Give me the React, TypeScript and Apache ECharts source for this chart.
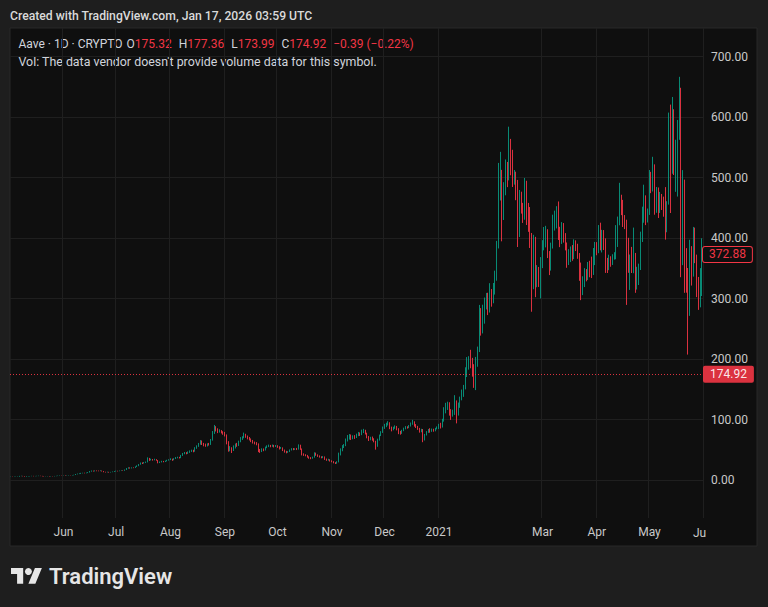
import React, { useEffect, useRef } from "react";
import * as echarts from "echarts";

const FONT = "Roboto, 'Noto Sans', 'DejaVu Sans', sans-serif";

// ---------- data: daily candles, each row = [close, low, high]; open = previous close ----------
const firstOpen = 5.0;

const may2020 = [
  [5.2, 4.9, 5.4], [5.1, 4.9, 5.4], [5.3, 5.0, 5.5], [5.4, 5.1, 5.6], [5.6, 5.2, 5.8], [6.5, 5.5, 6.8], [6.6, 6.2, 7.0], [6.3, 6.1, 6.8], [5.8, 5.4, 6.4], [5.9, 5.3, 6.3],
  [6.2, 5.8, 6.4], [6.4, 6.0, 6.6], [6.6, 6.2, 6.9], [6.3, 6.1, 6.8], [6.5, 6.2, 6.7], [6.6, 6.3, 6.9], [6.8, 6.4, 7.1], [6.6, 6.4, 7.0], [6.3, 6.0, 6.8], [6.0, 5.8, 6.5],
  [6.2, 5.9, 6.4], [6.3, 6.0, 6.5], [6.0, 5.9, 6.6], [6.2, 5.8, 6.4], [6.1, 5.9, 6.4], [6.5, 6.0, 6.7], [6.7, 6.3, 6.9], [6.9, 6.5, 7.2], [7.1, 6.7, 7.4], [7.0, 6.8, 7.3],
];
const jun2020 = [
  [7.3, 6.9, 7.5], [7.1, 6.8, 7.6], [7.4, 7.0, 7.6], [7.6, 7.2, 7.9], [7.5, 7.3, 7.8], [7.8, 7.4, 8.1], [8.4, 7.7, 8.6], [9.6, 8.3, 9.9], [10.2, 9.3, 10.6], [10.5, 9.8, 11.0],
  [11.2, 10.1, 11.8], [11.6, 10.9, 12.0], [11.3, 11.0, 12.0], [11.8, 11.1, 12.2], [12.5, 11.4, 13.0], [14.2, 12.3, 14.8], [15.1, 13.8, 15.7], [14.6, 14.0, 15.5], [15.3, 14.2, 15.9], [15.0, 14.5, 15.8],
  [14.8, 14.4, 15.6], [15.4, 14.6, 16.0], [14.5, 14.1, 15.6], [13.4, 12.8, 14.7], [12.9, 12.4, 13.6], [13.3, 12.6, 13.7], [12.6, 12.2, 13.5], [13.1, 12.4, 13.4], [13.6, 12.9, 14.0], [14.4, 13.4, 14.8],
];
const jul2020 = [
  [15.0, 14.1, 15.4], [14.7, 14.2, 15.3], [15.2, 14.5, 15.6], [15.5, 14.9, 15.9], [15.3, 14.9, 15.8], [16.8, 15.2, 17.3], [19.2, 16.6, 19.8], [20.3, 18.7, 21.0], [19.6, 18.9, 20.8], [20.4, 19.1, 20.9],
  [20.1, 19.6, 20.8], [21.9, 19.9, 22.5], [23.4, 21.5, 24.2], [25.6, 22.9, 26.4], [28.1, 25.2, 28.9], [27.6, 26.4, 29.1], [28.9, 27.1, 29.8], [29.4, 28.2, 30.5], [35.8, 29.1, 37.4], [33.2, 31.6, 36.5],
  [33.9, 32.4, 35.2], [33.1, 32.0, 34.6], [34.0, 32.5, 35.1], [32.6, 31.8, 34.4], [28.4, 27.6, 33.0], [29.8, 28.0, 30.6], [30.9, 29.1, 31.7], [30.1, 29.3, 31.5], [31.2, 29.8, 32.0], [32.6, 30.8, 33.4],
  [33.5, 32.1, 34.3],
];
const aug2020 = [
  [34.6, 32.9, 35.8], [33.0, 31.7, 35.2], [35.2, 32.6, 36.0], [36.8, 34.7, 37.9], [37.4, 35.9, 38.5], [36.5, 35.6, 38.2], [40.2, 36.1, 41.5], [43.6, 39.8, 44.7], [44.9, 42.6, 46.3], [43.8, 42.5, 46.0],
  [46.1, 43.1, 47.2], [47.5, 44.8, 48.9], [48.6, 46.4, 50.1], [47.2, 45.8, 49.9], [52.8, 46.7, 54.2], [55.9, 51.6, 57.3], [59.4, 54.8, 61.2], [64.1, 58.3, 66.0], [60.5, 57.9, 65.3], [58.2, 55.7, 61.4],
  [56.3, 54.9, 60.1], [59.1, 55.4, 60.6], [58.4, 56.9, 61.3], [66.2, 58.0, 67.8], [78.3, 65.1, 80.9], [86.4, 76.2, 91.0], [83.5, 80.2, 88.9], [80.2, 77.5, 85.4], [81.6, 78.4, 83.8], [79.4, 77.0, 82.5],
  [77.4, 74.8, 80.6],
];
const sep2020 = [
  [74.2, 72.0, 79.5], [62.8, 58.9, 75.3], [50.1, 46.8, 64.2], [53.6, 47.5, 56.0], [48.2, 44.6, 54.1], [55.3, 47.9, 57.2], [58.4, 52.1, 60.3], [57.1, 54.9, 61.4], [63.5, 56.3, 65.0], [68.7, 62.4, 70.9],
  [70.5, 66.2, 72.3], [75.6, 69.0, 78.3], [72.3, 69.8, 76.4], [69.4, 67.1, 73.5], [67.8, 65.4, 71.0], [64.9, 62.6, 68.7], [62.1, 60.3, 66.2], [61.3, 58.9, 63.5], [59.8, 57.4, 62.6], [49.7, 46.1, 60.5],
  [47.5, 44.8, 51.3], [50.9, 46.2, 52.4], [49.3, 47.6, 52.1], [53.8, 48.7, 55.2], [55.1, 52.6, 57.3], [56.8, 54.4, 58.5], [55.6, 54.1, 58.0], [57.2, 54.9, 58.6], [55.4, 53.8, 58.1], [56.3, 54.6, 57.9],
];
const oct2020 = [
  [54.8, 53.1, 57.4], [52.6, 50.4, 55.7], [53.3, 51.5, 54.6], [49.1, 47.8, 53.9], [46.5, 45.2, 50.3], [45.8, 44.1, 48.2], [46.9, 44.9, 47.8], [49.6, 46.2, 50.5], [51.2, 48.8, 52.6], [50.4, 49.3, 52.8],
  [51.6, 49.7, 52.4], [50.8, 49.5, 53.0], [57.6, 50.2, 58.9], [51.4, 49.8, 58.3], [42.3, 40.6, 52.1], [41.8, 39.9, 44.0], [40.5, 39.2, 42.6], [38.2, 36.9, 41.4], [36.6, 35.1, 39.0], [35.9, 34.4, 37.8],
  [37.4, 35.2, 38.6], [44.6, 36.9, 45.8], [41.3, 40.1, 45.2], [39.5, 38.2, 42.4], [38.1, 37.0, 40.6], [37.3, 35.8, 39.2], [38.4, 36.1, 39.5], [34.6, 33.2, 38.9], [33.1, 31.7, 35.4], [34.0, 32.0, 35.1],
  [31.6, 30.5, 34.3],
];
const nov2020 = [
  [30.2, 29.3, 32.5], [28.7, 27.6, 31.1], [27.9, 26.4, 29.5], [29.6, 26.9, 31.0], [41.8, 29.1, 45.2], [49.7, 40.6, 52.3], [54.3, 47.5, 57.6], [57.1, 52.8, 59.4], [66.2, 55.9, 68.5], [70.4, 63.7, 74.3],
  [73.6, 66.8, 76.0], [68.9, 66.1, 75.2], [71.5, 67.4, 73.8], [70.2, 67.9, 74.1], [74.8, 69.4, 76.6], [76.9, 72.5, 79.4], [75.3, 72.8, 78.6], [80.6, 74.1, 83.2], [82.1, 77.6, 84.5], [77.4, 75.2, 83.0],
  [71.3, 68.9, 78.2], [66.8, 64.5, 72.6], [69.5, 65.7, 71.4], [67.2, 65.0, 71.8], [64.1, 62.3, 69.0], [55.6, 50.2, 64.8], [66.4, 54.9, 68.3], [73.5, 65.2, 75.1], [78.9, 72.6, 80.7], [86.2, 77.8, 88.4],
];
const dec2020 = [
  [88.7, 84.5, 92.8], [92.4, 87.3, 94.6], [94.8, 90.1, 97.2], [86.3, 84.0, 95.5], [83.1, 80.4, 88.2], [86.5, 82.2, 88.0], [87.8, 84.6, 90.3], [84.2, 82.1, 89.4], [79.3, 75.8, 85.6], [77.5, 74.9, 81.2],
  [81.6, 76.3, 83.0], [84.9, 80.7, 86.5], [87.2, 83.8, 89.1], [86.4, 84.9, 88.7], [89.1, 85.7, 90.8], [92.6, 88.4, 95.0], [96.1, 91.3, 99.4], [90.3, 88.2, 97.0], [88.1, 86.0, 92.4], [84.7, 82.9, 89.5],
  [80.2, 78.3, 86.1], [82.4, 78.9, 84.6], [66.9, 62.5, 84.2], [74.8, 65.3, 76.1], [79.3, 73.6, 80.8], [82.5, 77.9, 84.3], [80.7, 78.2, 85.6], [83.4, 79.6, 85.0], [81.9, 79.8, 84.7], [84.6, 80.5, 86.2],
  [86.9, 83.7, 88.6],
];
const jan2021 = [
  [90.5, 84.2, 92.8], [88.3, 85.1, 94.6], [98.6, 86.7, 101.2], [116.4, 96.5, 120.3], [121.8, 110.2, 127.6], [125.3, 115.8, 129.4], [112.7, 106.4, 128.5], [106.2, 99.3, 117.1], [113.5, 104.8, 116.2], [130.8, 107.6, 140.2],
  [108.1, 93.6, 131.5], [122.4, 106.5, 128.0], [134.6, 119.3, 137.8], [145.2, 131.7, 149.5], [152.9, 137.4, 157.2], [178.6, 149.8, 186.3], [196.4, 170.2, 203.1], [198.8, 182.4, 204.6], [190.3, 184.7, 215.2], [185.6, 170.8, 201.9],
  [158.4, 152.3, 191.4], [195.7, 148.6, 203.4], [214.6, 187.2, 220.5], [268.3, 211.5, 289.4], [247.9, 238.6, 284.1], [276.5, 242.3, 289.7], [289.1, 258.4, 301.6], [302.5, 281.9, 309.2], [279.4, 272.6, 309.5], [308.7, 276.8, 325.3],
  [304.2, 286.5, 315.6],
];
const feb2021 = [
  [318.4, 292.1, 325.6], [338.2, 306.5, 346.0], [389.6, 329.4, 395.2], [468.5, 382.7, 524.1], [506.3, 462.0, 542.4], [437.2, 394.5, 512.6], [481.6, 429.8, 492.3], [514.2, 470.6, 529.8], [497.5, 484.1, 525.7], [563.8, 495.2, 584.0],
  [538.6, 503.7, 547.2], [499.4, 484.3, 545.8], [506.7, 488.2, 512.4], [468.9, 462.5, 509.6], [405.3, 385.1, 496.0], [472.8, 401.6, 479.4], [446.1, 440.3, 476.5], [437.6, 424.9, 458.1], [489.7, 430.2, 499.3], [454.8, 421.5, 494.6],
  [426.3, 410.2, 458.0], [401.2, 383.5, 451.2], [322.6, 278.1, 408.3], [393.5, 315.4, 405.3], [329.8, 302.2, 401.9], [346.1, 318.6, 355.2], [336.4, 319.1, 352.1], [354.7, 300.1, 368.4],
];
const mar2021 = [
  [391.5, 350.2, 396.4], [404.8, 379.6, 418.2], [412.3, 384.5, 420.1], [372.6, 366.8, 414.5], [349.2, 338.7, 378.4], [386.9, 346.1, 392.3], [430.4, 382.6, 438.5], [436.8, 412.3, 445.2], [447.5, 415.8, 452.6], [405.3, 396.7, 460.4],
  [392.1, 384.9, 418.5], [420.6, 390.2, 426.3], [401.8, 392.4, 424.7], [386.2, 379.5, 408.1], [357.4, 350.8, 392.6], [372.9, 355.3, 381.5], [381.4, 360.2, 386.0], [368.7, 362.4, 388.3], [392.6, 365.1, 397.8], [385.1, 378.4, 396.2],
  [371.3, 365.6, 390.5], [336.8, 329.2, 375.1], [318.5, 297.3, 359.4], [331.2, 305.6, 336.7], [340.5, 318.9, 350.2], [336.2, 328.4, 348.6], [355.8, 330.5, 360.4], [341.7, 335.1, 362.3], [338.9, 333.8, 369.2], [371.6, 341.9, 383.4],
  [387.4, 355.2, 393.5],
];
const apr2021 = [
  [375.8, 371.5, 393.2], [410.6, 374.9, 421.4], [384.2, 379.6, 425.3], [408.9, 376.1, 413.5], [396.4, 380.2, 413.1], [356.8, 342.3, 399.4], [349.5, 342.1, 367.2], [366.3, 346.8, 372.4], [358.7, 352.5, 369.8], [368.2, 355.4, 373.1],
  [372.9, 364.2, 376.5], [411.7, 364.8, 421.3], [425.6, 385.2, 435.4], [468.3, 421.0, 491.2], [452.1, 437.8, 471.5], [428.4, 418.2, 463.0], [421.6, 414.7, 437.9], [366.3, 289.4, 430.2], [347.8, 342.5, 400.3], [364.5, 314.2, 372.6],
  [348.2, 342.1, 385.3], [371.4, 341.8, 417.2], [321.7, 309.4, 375.3], [342.6, 314.8, 352.4], [350.9, 322.3, 357.6], [403.7, 347.1, 410.5], [441.2, 393.4, 451.8], [470.5, 425.2, 488.1], [436.9, 421.3, 463.4], [441.5, 425.6, 448.7],
];
const may2021 = [
  [497.3, 438.2, 512.4], [478.6, 474.1, 509.3], [521.4, 476.9, 534.2], [446.2, 438.5, 521.7], [479.5, 441.6, 484.3], [448.3, 433.1, 483.5], [463.7, 441.4, 476.2], [455.1, 446.3, 472.8], [441.8, 435.2, 468.4], [412.6, 397.3, 484.1],
  [457.9, 409.5, 460.8], [592.6, 455.2, 607.3], [512.4, 441.3, 620.5], [608.7, 506.2, 633.1], [516.3, 504.1, 612.8], [548.2, 476.3, 562.4], [582.9, 468.5, 595.1], [641.5, 562.3, 666.4], [382.7, 335.2, 648.3], [476.4, 355.1, 512.2],
  [361.3, 309.4, 496.5], [334.8, 309.6, 383.2], [284.5, 207.3, 350.4], [378.2, 271.3, 397.1], [342.6, 321.4, 386.5], [396.8, 336.2, 418.3], [365.1, 358.4, 417.2], [312.7, 302.3, 372.5], [291.4, 281.2, 335.6], [338.5, 285.4, 350.2],
  [372.88, 304.1, 399.5],
];

const monthBlocks = [
  { year: 2020, month: 5, firstDay: 2, rows: may2020 },
  { year: 2020, month: 6, firstDay: 1, rows: jun2020 },
  { year: 2020, month: 7, firstDay: 1, rows: jul2020 },
  { year: 2020, month: 8, firstDay: 1, rows: aug2020 },
  { year: 2020, month: 9, firstDay: 1, rows: sep2020 },
  { year: 2020, month: 10, firstDay: 1, rows: oct2020 },
  { year: 2020, month: 11, firstDay: 1, rows: nov2020 },
  { year: 2020, month: 12, firstDay: 1, rows: dec2020 },
  { year: 2021, month: 1, firstDay: 1, rows: jan2021 },
  { year: 2021, month: 2, firstDay: 1, rows: feb2021 },
  { year: 2021, month: 3, firstDay: 1, rows: mar2021 },
  { year: 2021, month: 4, firstDay: 1, rows: apr2021 },
  { year: 2021, month: 5, firstDay: 1, rows: may2021 },
];

const monthNames = ["Jan", "Feb", "Mar", "Apr", "May", "Jun", "Jul", "Aug", "Sep", "Oct", "Nov", "Dec"];
const hiddenMonthLabels = ["02"]; // the reference shows no Feb label / grid line
const priceMin = 0;
const priceMax = 700;
const priceStep = 100;

const headerTitle = "Created with TradingView.com, Jan 17, 2026 03:59 UTC";
const symbolText = "Aave · 1D · CRYPTO";
const headerOHLC = [
  ["O", "175.32"],
  ["H", "177.36"],
  ["L", "173.99"],
  ["C", "174.92"],
];
const headerChange = "−0.39 (−0.22%)";
const volText = "Vol: The data vendor doesn't provide volume data for this symbol.";
const currentPrice = 174.92;
const lastVisibleClose = 372.88;

// ---------- build series ----------
const pad = (n: number) => (n < 10 ? "0" + n : "" + n);
const categories: string[] = [];
const ohlc: number[][] = [];
{
  let prev = firstOpen;
  for (const b of monthBlocks) {
    b.rows.forEach((r, i) => {
      categories.push(`${b.year}-${pad(b.month)}-${pad(b.firstDay + i)}`);
      const o = prev;
      const c = r[0];
      ohlc.push([o, c, Math.min(r[1], o, c), Math.max(r[2], o, c)]);
      prev = c;
    });
  }
}

const isMonthStart = (index: number) => {
  const d = categories[index];
  if (!d || !d.endsWith("-01")) return false;
  return hiddenMonthLabels.indexOf(d.slice(5, 7)) < 0;
};

const UP = "#089981";
const DOWN = "#f23645";
const AXIS_TEXT = "#c9c9c9";
const LEGEND_TEXT = "#d1d4dc";
const GRID_LINE = "#1f1f1f";
const LOGO_PATH = "M14 22H7V11H0V4h14v18zM28 22h-8l7.5-18h8L28 22z";
const LEGEND_SIZE = 12;
const VOL_SIZE = 12.4;

let logoRegistered = false;

export default function App() {
  const ref = useRef<HTMLDivElement>(null);

  useEffect(() => {
    if (!ref.current) return;
    if (!logoRegistered) {
      echarts.graphic.registerShape("tvlogo", echarts.graphic.extendPath(LOGO_PATH, {}));
      logoRegistered = true;
    }
    const chart = echarts.init(ref.current, null, { renderer: "svg" });

    // legend line as one rich text so pieces never overlap
    let legendRich = `{n|${symbolText}}{g1| }`;
    headerOHLC.forEach((g) => {
      legendRich += `{n|${g[0]}}{r|${g[1]}}{g2| }`;
    });
    legendRich += `{r|${headerChange}}`;

    const richBase = { fontSize: LEGEND_SIZE, fontFamily: FONT };

    const option: any = {
      animation: false,
      backgroundColor: "#1e1e1e",
      textStyle: { fontFamily: FONT },
      grid: [
        { left: 10, top: 28, width: 693, height: 490, show: false },
        { left: 10, top: 56.5, width: 693, height: 423.5, show: false },
      ],
      xAxis: [
        {
          type: "category",
          gridIndex: 0,
          data: categories,
          boundaryGap: true,
          axisLine: { show: false },
          axisTick: { show: false },
          axisLabel: {
            interval: (index: number) => isMonthStart(index),
            formatter: (v: string) => {
              const m = +v.slice(5, 7);
              return m === 1 ? v.slice(0, 4) : monthNames[m - 1];
            },
            color: AXIS_TEXT,
            fontSize: 12,
            fontFamily: FONT,
            margin: 8,
          },
          splitLine: {
            show: true,
            interval: (index: number) => isMonthStart(index),
            lineStyle: { color: GRID_LINE, width: 1 },
          },
        },
        { type: "category", gridIndex: 1, data: categories, boundaryGap: true, show: false },
      ],
      yAxis: [
        { type: "value", gridIndex: 0, show: false, min: 0, max: 1, splitLine: { show: false } },
        {
          type: "value",
          gridIndex: 1,
          position: "right",
          min: priceMin,
          max: priceMax,
          interval: priceStep,
          axisLine: { show: false },
          axisTick: { show: false },
          axisLabel: {
            formatter: (v: number) => v.toFixed(2),
            color: AXIS_TEXT,
            fontSize: 12,
            fontFamily: FONT,
            margin: 8,
          },
          splitLine: { show: true, lineStyle: { color: GRID_LINE, width: 1 } },
        },
      ],
      series: [
        {
          type: "candlestick",
          xAxisIndex: 1,
          yAxisIndex: 1,
          data: ohlc,
          barWidth: 1,
          itemStyle: {
            color: UP,
            color0: DOWN,
            borderColor: UP,
            borderColor0: DOWN,
            borderWidth: 0.9,
          },
          markLine: {
            silent: true,
            symbol: ["none", "none"],
            animation: false,
            data: [
              {
                yAxis: currentPrice,
                lineStyle: { color: DOWN, type: [1, 2], width: 1, opacity: 0.9 },
                label: {
                  show: true,
                  position: "end",
                  distance: 0,
                  formatter: currentPrice.toFixed(2),
                  color: "#ffffff",
                  backgroundColor: DOWN,
                  padding: [3, 7, 2, 7],
                  fontSize: 12,
                  fontFamily: FONT,
                  borderRadius: 2,
                },
              },
              {
                yAxis: lastVisibleClose,
                lineStyle: { color: "rgba(0,0,0,0)", width: 0 },
                label: {
                  show: true,
                  position: "end",
                  distance: 0,
                  formatter: lastVisibleClose.toFixed(2),
                  color: DOWN,
                  backgroundColor: "#0f0f0f",
                  borderColor: DOWN,
                  borderWidth: 1,
                  padding: [2, 6, 1, 6],
                  fontSize: 12,
                  fontFamily: FONT,
                  borderRadius: 2,
                },
              },
            ],
          },
        },
      ],
      graphic: [
        {
          type: "rect",
          z: -10,
          shape: { x: 10, y: 28, width: 747, height: 518 },
          style: { fill: "#0f0f0f", stroke: "#282828", lineWidth: 1 },
        },
        {
          type: "text",
          x: 10,
          y: 16,
          style: {
            text: headerTitle,
            fill: "#dadada",
            fontSize: 12.2,
            fontWeight: 500,
            fontFamily: FONT,
            verticalAlign: "middle",
          },
        },
        {
          type: "text",
          x: 18.5,
          y: 43.5,
          style: {
            text: legendRich,
            fontSize: LEGEND_SIZE,
            fontFamily: FONT,
            verticalAlign: "middle",
            rich: {
              n: { ...richBase, fill: LEGEND_TEXT },
              r: { ...richBase, fill: DOWN },
              g1: { ...richBase, width: 4 },
              g2: { ...richBase, width: 7 },
            },
          },
        },
        {
          type: "text",
          x: 18.5,
          y: 61.5,
          style: { text: volText, fill: LEGEND_TEXT, fontSize: VOL_SIZE, fontFamily: FONT, verticalAlign: "middle" },
        },
        {
          type: "text",
          x: 693,
          y: 532.5,
          style: { text: "Ju", fill: AXIS_TEXT, fontSize: 12, fontFamily: FONT, verticalAlign: "middle" },
        },
        {
          type: "tvlogo",
          x: 11,
          y: 564.5,
          scaleX: 0.87,
          scaleY: 0.87,
          style: { fill: "#e6e6e6" },
        },
        {
          type: "circle",
          shape: { cx: 11 + 20 * 0.87, cy: 564.5 + 8 * 0.87, r: 4 * 0.87 },
          style: { fill: "#e6e6e6" },
        },
        {
          type: "text",
          x: 49,
          y: 576.5,
          style: {
            text: "TradingView",
            fill: "#e6e6e6",
            fontSize: 22,
            fontWeight: 600,
            fontFamily: FONT,
            verticalAlign: "middle",
          },
        },
      ],
    };

    chart.setOption(option);
    return () => chart.dispose();
  }, []);

  return (
    <div
      ref={ref}
      style={{ position: "absolute", left: 0, top: 0, width: 768, height: 607 }}
    />
  );
}
